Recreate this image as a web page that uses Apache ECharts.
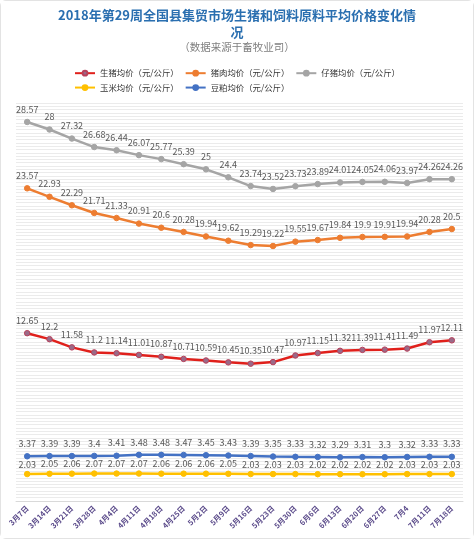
<!DOCTYPE html>
<html>
<head>
<meta charset="utf-8">
<script src="https://cdn.jsdelivr.net/npm/echarts@6/dist/echarts.min.js"></script>
<style>
  html, body { margin: 0; padding: 0; background: #fff; }
  #chart { width: 472px; height: 537px; border: 1px solid #e3e3e3; border-radius: 6px; }
</style>
</head>
<body>
<div id="chart"></div>
<script>
const dates = ['3月7日', '3月14日', '3月21日', '3月28日', '4月4日', '4月11日', '4月18日', '4月25日', '5月2日', '5月9日',
  '5月16日', '5月23日', '5月30日', '6月6日', '6月13日', '6月20日', '6月27日', '7月4', '7月11日', '7月18日']

const livePig = [12.65, 12.2, 11.58, 11.2, 11.14, 11.01, 10.87, 10.71, 10.59, 10.45, 10.35, 10.47, 10.97, 11.15, 11.32, 11.39, 11.41, 11.49, 11.97, 12.11]
const pork = [23.57, 22.93, 22.29, 21.71, 21.33, 20.91, 20.6, 20.28, 19.94, 19.62, 19.29, 19.22, 19.55, 19.67, 19.84, 19.9, 19.91, 19.94, 20.28, 20.5]
const piglet = [28.57, 28, 27.32, 26.68, 26.44, 26.07, 25.77, 25.39, 25, 24.4, 23.74, 23.52, 23.73, 23.89, 24.01, 24.05, 24.06, 23.97, 24.26, 24.26]
const corn = [2.03, 2.05, 2.06, 2.07, 2.07, 2.07, 2.06, 2.06, 2.06, 2.05, 2.03, 2.03, 2.03, 2.02, 2.02, 2.02, 2.02, 2.03, 2.03, 2.03]
const soyMeal = [3.37, 3.39, 3.39, 3.4, 3.41, 3.48, 3.48, 3.47, 3.45, 3.43, 3.39, 3.35, 3.33, 3.32, 3.29, 3.31, 3.3, 3.32, 3.33, 3.33]

const FONT = '"Noto Sans CJK SC", "Noto Sans", sans-serif'

function lineSeries(name, data, color, markerColor, markerBorder, labelGap) {
  return {
    name, type: 'line', data,
    symbol: 'circle', symbolSize: 5.5,
    lineStyle: { color, width: 2.5 },
    itemStyle: { color: markerColor || color, borderColor: markerBorder || color, borderWidth: 1 },
    label: { show: true, position: 'top', distance: labelGap || 5, fontSize: 9, color: '#595959', fontFamily: FONT },
    emphasis: { disabled: true },
    animation: false
  }
}

const chart = echarts.init(document.getElementById('chart'))
chart.setOption({
  backgroundColor: '#fff',
  textStyle: { fontFamily: FONT },
  // title wraps in the original, so the lines are placed one by one
  graphic: [
    { type: 'text', left: 'center', top: 8, silent: true,
      style: { text: '2018年第29周全国县集贸市场生猪和饲料原料平均价格变化情', fontSize: 13, fontWeight: 'bold', fill: '#2a6fb0', fontFamily: FONT } },
    { type: 'text', left: 'center', top: 25, silent: true,
      style: { text: '况', fontSize: 13, fontWeight: 'bold', fill: '#2a6fb0', fontFamily: FONT } },
    { type: 'text', left: 'center', top: 41, silent: true,
      style: { text: '（数据来源于畜牧业司）', fontSize: 10.5, fill: '#7f7f7f', fontFamily: FONT } }
  ],
  legend: {
    top: 63, left: 'center', width: 400,
    itemWidth: 20, itemHeight: 6, itemGap: 6,
    textStyle: { fontSize: 8.4, color: '#333', fontFamily: FONT },
    data: ['生猪均价（元/公斤）', '猪肉均价（元/公斤）', '仔猪均价（元/公斤）', '玉米均价（元/公斤）', '豆粕均价（元/公斤）']
  },
  grid: { left: 15, right: 10, top: 102, bottom: 37 },
  xAxis: {
    type: 'category', data: dates, boundaryGap: true,
    axisLine: { lineStyle: { color: '#d9d9d9' } },
    axisTick: { show: false },
    axisLabel: { rotate: 45, interval: 0, fontSize: 7.5, fontWeight: 'bold', color: '#5a4a8a', margin: 6, fontFamily: FONT }
  },
  yAxis: {
    type: 'value', min: 0, max: 30, interval: 0.25,
    axisLine: { show: false }, axisTick: { show: false }, axisLabel: { show: false },
    splitLine: { lineStyle: { color: '#ebebeb', width: 1 } }
  },
  series: [
    lineSeries('生猪均价（元/公斤）', livePig, '#e0201b', '#9a6a88', '#b8405a'),
    lineSeries('猪肉均价（元/公斤）', pork, '#ed7d31'),
    lineSeries('仔猪均价（元/公斤）', piglet, '#a5a5a5'),
    lineSeries('玉米均价（元/公斤）', corn, '#ffc000', null, null, 2),
    lineSeries('豆粕均价（元/公斤）', soyMeal, '#4472c4')
  ]
})
</script>
</body>
</html>
